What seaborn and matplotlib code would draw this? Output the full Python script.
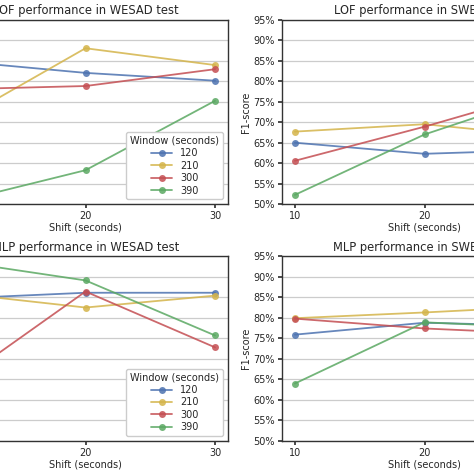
import pandas as pd
import matplotlib
matplotlib.use('Agg')
import matplotlib.pyplot as plt
import matplotlib.ticker as mtick
import seaborn as sns

shifts = [10, 20, 30]
windows = [120, 210, 300, 390]

# F1-score (%) per window, indexed by shift
lof_wesad = {120: [84.9, 82.0, 80.1], 210: [70.0, 88.0, 83.9],
             300: [78.0, 78.8, 82.9], 390: [50.5, 58.3, 75.2]}
lof_swell = {120: [65.0, 62.3, 63.3], 210: [67.7, 69.5, 66.4],
             300: [60.6, 68.9, 78.0], 390: [52.3, 67.0, 77.5]}
mlp_wesad = {120: [84.7, 86.1, 86.1], 210: [86.0, 82.5, 85.4],
             300: [64.0, 86.4, 72.8], 390: [93.8, 89.1, 75.7]}
mlp_swell = {120: [75.9, 78.8, 78.0], 210: [79.9, 81.3, 82.9],
             300: [79.8, 77.4, 76.0], 390: [64.0, 78.9, 77.5]}

palette = {120: '#4c72b0', 210: '#d4b44a', 300: '#c44e52', 390: '#5aa862'}


def to_frame(d):
    rows = []
    for w in windows:
        for s, v in zip(shifts, d[w]):
            rows.append({'Shift (seconds)': s, 'F1-score': v / 100, 'Window (seconds)': w})
    return pd.DataFrame(rows)


sns.set_theme(style='white')
plt.rcParams['font.family'] = ['DejaVu Sans']
fig = plt.figure(figsize=(4.74, 4.74), dpi=100)

W = 474.0
panels = [
    (lof_wesad, 'LOF performance in WESAD test', -57, 204.3, True),
    (lof_swell, 'LOF performance in SWELL test', 282, 204.3, False),
    (mlp_wesad, 'MLP performance in WESAD test', -57, 441.0, True),
    (mlp_swell, 'MLP performance in SWELL test', 282, 441.0, False),
]

for data, title, left, bottom, legend in panels:
    ax = fig.add_axes([left / W, (W - bottom) / W, 285 / W, 184.8 / W])
    df = to_frame(data)
    sns.lineplot(data=df, x='Shift (seconds)', y='F1-score', hue='Window (seconds)',
                 palette=palette, marker='o', markersize=5, markeredgewidth=0,
                 linewidth=1.3, alpha=0.85, ax=ax, legend=legend)
    ax.set_xlim(9, 31)
    ax.set_ylim(0.5, 0.95)
    ax.set_xticks(shifts)
    ax.set_yticks([0.5 + 0.05 * i for i in range(10)])
    ax.yaxis.set_major_formatter(mtick.PercentFormatter(1.0, decimals=0))
    ax.yaxis.grid(True, color='#cccccc', linewidth=0.9)
    ax.tick_params(labelsize=7, length=3, pad=2, left=True, bottom=True, color='#333333')
    ax.set_xlabel('Shift (seconds)', fontsize=7, labelpad=1)
    ax.set_ylabel('F1-score', fontsize=7, labelpad=2)
    ax.set_title(title, fontsize=8.3, pad=4)
    for sp in ax.spines.values():
        sp.set_color('#333333')
        sp.set_linewidth(1.0)
    if legend:
        leg = ax.legend(title='Window (seconds)', loc='lower right', fontsize=7,
                        title_fontsize=7, framealpha=1, borderpad=0.4,
                        labelspacing=0.25, handlelength=2.2)

fig.savefig('out.png', dpi=100)
